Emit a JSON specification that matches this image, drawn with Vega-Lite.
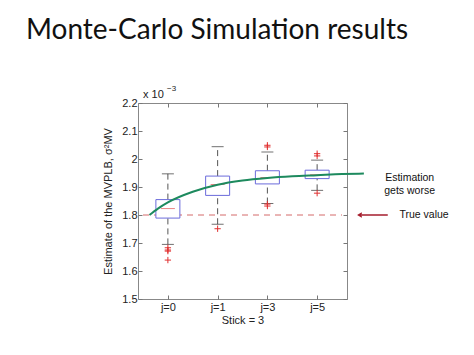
{
  "$schema": "https://vega.github.io/schema/vega-lite/v6.json",
  "width": 209,
  "height": 196,
  "autosize": {"type": "none"},
  "padding": {"left": 138, "top": 103, "right": 127, "bottom": 56},
  "background": "white",
  "title": {
    "text": "Monte-Carlo Simulation results",
    "anchor": "start",
    "frame": "group",
    "dx": -112,
    "offset": 40,
    "font": "Lato",
    "fontSize": 28,
    "fontWeight": "normal",
    "color": "#111111"
  },
  "config": {
    "view": {"stroke": "#888888", "strokeWidth": 1},
    "font": "Liberation Sans",
    "axis": {
      "grid": false,
      "domain": false,
      "tickColor": "#777777",
      "tickSize": -4,
      "labelFont": "Liberation Sans",
      "labelFontSize": 11,
      "labelColor": "#222222",
      "titleFont": "Liberation Sans",
      "titleFontSize": 11,
      "titleFontWeight": "normal",
      "titleColor": "#222222"
    }
  },
  "resolve": {"axis": {"x": "independent", "y": "independent"}},
  "datasets": {
    "boxes": [
      {"x": 1, "j": "j=0", "lo": 1.695, "q1": 1.789, "median": 1.823, "q3": 1.855, "hi": 1.947},
      {"x": 2, "j": "j=1", "lo": 1.767, "q1": 1.870, "median": 1.909, "q3": 1.939, "hi": 2.044},
      {"x": 3, "j": "j=3", "lo": 1.841, "q1": 1.911, "median": 1.934, "q3": 1.958, "hi": 2.025},
      {"x": 4, "j": "j=5", "lo": 1.888, "q1": 1.930, "median": 1.944, "q3": 1.960, "hi": 1.996}
    ],
    "outliers": [
      {"x": 1, "v": 1.683}, {"x": 1, "v": 1.675}, {"x": 1, "v": 1.671}, {"x": 1, "v": 1.639},
      {"x": 2, "v": 1.751},
      {"x": 3, "v": 2.049}, {"x": 3, "v": 2.043}, {"x": 3, "v": 1.839}, {"x": 3, "v": 1.832},
      {"x": 4, "v": 2.019}, {"x": 4, "v": 2.011}, {"x": 4, "v": 1.878}
    ],
    "curve": [
      {"x": 0.63, "v": 1.800},
      {"x": 0.8, "v": 1.823},
      {"x": 1.0, "v": 1.845},
      {"x": 1.5, "v": 1.883},
      {"x": 2.0, "v": 1.908},
      {"x": 2.5, "v": 1.923},
      {"x": 3.0, "v": 1.932},
      {"x": 3.5, "v": 1.938},
      {"x": 4.0, "v": 1.942},
      {"x": 4.5, "v": 1.946},
      {"x": 4.94, "v": 1.948}
    ]
  },
  "layer": [
    {
      "layer": [
        {
          "data": {"values": [{}]},
          "mark": {"type": "rule", "color": "#d46a6a", "strokeDash": [6, 5], "strokeWidth": 1},
          "encoding": {
            "x": {"datum": 0.5},
            "x2": {"datum": 4.5},
            "y": {"datum": 1.8}
          }
        },
        {
          "data": {"name": "boxes"},
          "mark": {"type": "rule", "color": "#555555", "strokeDash": [6, 4], "strokeWidth": 1},
          "encoding": {
            "x": {"field": "x"},
            "y": {"field": "q3"},
            "y2": {"field": "hi"}
          }
        },
        {
          "data": {"name": "boxes"},
          "mark": {"type": "rule", "color": "#555555", "strokeDash": [6, 4], "strokeWidth": 1},
          "encoding": {
            "x": {"field": "x"},
            "y": {"field": "lo"},
            "y2": {"field": "q1"}
          }
        },
        {
          "data": {"name": "boxes"},
          "mark": {"type": "tick", "orient": "horizontal", "size": 12, "thickness": 1, "color": "#333333"},
          "encoding": {
            "x": {"field": "x"},
            "y": {"field": "hi"}
          }
        },
        {
          "data": {"name": "boxes"},
          "mark": {"type": "tick", "orient": "horizontal", "size": 12, "thickness": 1, "color": "#333333"},
          "encoding": {
            "x": {"field": "x"},
            "y": {"field": "lo"}
          }
        },
        {
          "data": {"name": "boxes"},
          "mark": {"type": "bar", "size": 24, "fill": "white", "stroke": "#6b6bdb", "strokeWidth": 1},
          "encoding": {
            "x": {"field": "x"},
            "y": {"field": "q1"},
            "y2": {"field": "q3"}
          }
        },
        {
          "data": {"name": "boxes"},
          "mark": {"type": "tick", "orient": "horizontal", "size": 14, "thickness": 1, "color": "#e05050"},
          "encoding": {
            "x": {"field": "x"},
            "y": {"field": "median"}
          }
        },
        {
          "data": {"name": "outliers"},
          "mark": {"type": "point", "shape": "M-1,0L1,0M0,-1L0,1", "filled": false, "size": 40, "stroke": "#e03030", "strokeWidth": 1, "opacity": 1},
          "encoding": {
            "x": {"field": "x"},
            "y": {"field": "v"}
          }
        },
        {
          "data": {"values": [{}]},
          "mark": {"type": "rule", "color": "#a51d2d", "strokeWidth": 1.5, "clip": false},
          "encoding": {
            "x": {"datum": 4.9},
            "x2": {"datum": 5.42},
            "y": {"datum": 1.8}
          }
        },
        {
          "data": {"values": [{}]},
          "mark": {"type": "point", "shape": "triangle-left", "filled": true, "size": 30, "color": "#a51d2d", "opacity": 1, "clip": false},
          "encoding": {
            "x": {"datum": 4.85},
            "y": {"datum": 1.8}
          }
        },
        {
          "data": {"values": [{"t": "True value"}]},
          "mark": {"type": "text", "fontSize": 10.5, "color": "#111111", "align": "center", "baseline": "middle", "clip": false},
          "encoding": {
            "x": {"datum": 6.15},
            "y": {"datum": 1.8},
            "text": {"field": "t"}
          }
        },
        {
          "data": {"values": [{"t": "Estimation\ngets worse"}]},
          "mark": {"type": "text", "fontSize": 10.5, "lineHeight": 12.5, "lineBreak": "\n", "color": "#111111", "align": "center", "baseline": "middle", "clip": false},
          "encoding": {
            "x": {"datum": 5.86},
            "y": {"datum": 1.931},
            "text": {"field": "t"}
          }
        },
        {
          "data": {"values": [{"t": "x 10"}]},
          "mark": {"type": "text", "fontSize": 11, "color": "#222222", "align": "left", "baseline": "middle", "dy": -8, "clip": false},
          "encoding": {
            "x": {"datum": 0.5},
            "y": {"datum": 2.2},
            "text": {"field": "t"}
          }
        },
        {
          "data": {"values": [{"t": "−3"}]},
          "mark": {"type": "text", "fontSize": 8, "color": "#222222", "align": "left", "baseline": "middle", "dx": 24, "dy": -14, "clip": false},
          "encoding": {
            "x": {"datum": 0.5},
            "y": {"datum": 2.2},
            "text": {"field": "t"}
          }
        }
      ],
      "encoding": {
        "x": {"type": "quantitative",
          "scale": {"domain": [0.5, 4.5], "nice": false, "zero": false},
          "axis": {"values": [1, 2, 3, 4], "labelExpr": "['j=0','j=1','j=3','j=5'][datum.value-1]", "title": "Stick = 3", "labelPadding": 6, "titlePadding": 2, "labelOverlap": false}},
        "y": {"type": "quantitative",
          "scale": {"domain": [1.5, 2.2], "nice": false, "zero": false},
          "axis": {"tickCount": 7, "format": ".1f", "labelExpr": "replace(datum.label, '.0', '')", "title": "Estimate of the MVPLB, σ²MV", "labelPadding": 5, "titlePadding": 8, "labelOverlap": false, "labelFlush": false, "labelBound": false}}
      }
    },
    {
      "data": {"name": "curve"},
      "mark": {"type": "line", "color": "#1d8a5e", "strokeWidth": 2, "interpolate": "monotone", "clip": false},
      "encoding": {
        "x": {"field": "x", "type": "quantitative",
          "scale": {"domain": [0.5, 4.5], "nice": false, "zero": false},
          "axis": {"orient": "top", "values": [1, 2, 3, 4], "labels": false, "title": null}},
        "y": {"field": "v", "type": "quantitative",
          "scale": {"domain": [1.5, 2.2], "nice": false, "zero": false},
          "axis": {"orient": "right", "tickCount": 7, "labels": false, "title": null}}
      }
    }
  ]
}
